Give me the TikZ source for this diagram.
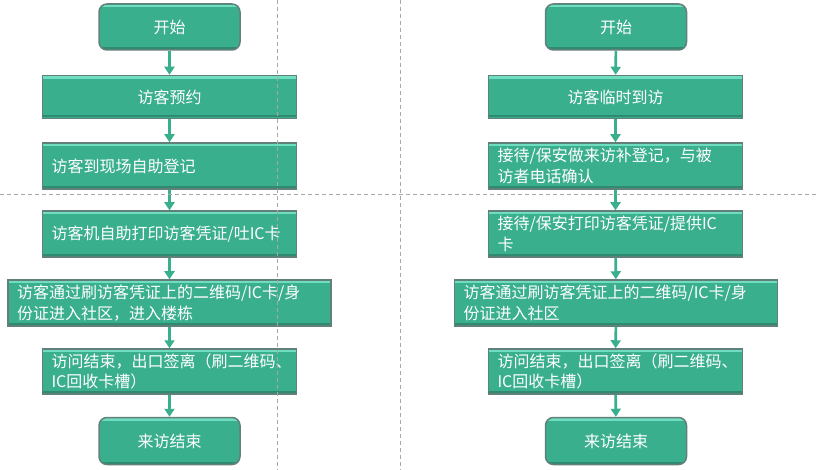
\documentclass[tikz,border=0pt]{standalone}
\usepackage{fontspec}
\setmainfont{Noto Sans CJK SC}
\usetikzlibrary{arrows.meta}
\definecolor{boxfill}{HTML}{3AAF8E}
\definecolor{boxedge}{HTML}{61807A}
\definecolor{boxhi}{HTML}{6FDDBF}
\definecolor{boxlo}{HTML}{2E8A70}
\definecolor{dashc}{HTML}{A8A8A8}
\begin{document}
\begin{tikzpicture}[x=1pt,y=-1pt,
  base/.style={draw=boxedge, line width=1.5pt, fill=boxfill, text=white,
    font=\fontsize{16}{20.5}\selectfont, inner ysep=0pt, minimum height=46pt,
    path picture={
      \draw[boxhi,line width=2.5pt] ([yshift=-2pt]path picture bounding box.north west) -- ([yshift=-2pt]path picture bounding box.north east);
      \draw[boxlo,line width=2pt] ([yshift=2pt]path picture bounding box.south west) -- ([yshift=2pt]path picture bounding box.south east);
    }},
  term/.style={base, rounded corners=8pt, minimum width=141pt, inner xsep=0pt, align=center},
  cbox/.style={base, minimum width=254pt, inner xsep=0pt, align=center},
  lbox/.style={base, inner xsep=9pt, text width=#1, align=left},
  arr/.style={draw=boxfill, line width=2.6pt, -{Triangle[width=10pt,length=8pt]}},
  divider/.style={draw=dashc, line width=1pt, dash pattern=on 4pt off 3pt}
]
\useasboundingbox (0,0) rectangle (816,470);
\fill[white] (0,0) rectangle (816,470);

% left column
\node[term] (s1) at (169.5,27) {开始};
\node[cbox, minimum height=43pt] (a1) at (169.5,97) {访客预约};
\node[lbox=236pt] (a2) at (169.5,166) {访客到现场自助登记};
\node[lbox=236pt] (a3) at (169.5,234) {访客机自助打印访客凭证/吐IC卡};
\node[lbox=305pt] (a4) at (169.5,303) {访客通过刷访客凭证上的二维码/IC卡/身\\份证进入社区，进入楼栋};
\node[lbox=236pt, minimum height=45pt] (a5) at (169.5,371.5) {访问结束，出口签离（刷二维码、\\IC回收卡槽）};
\node[term, minimum height=47pt] (e1) at (169.5,441) {来访结束};

% right column
\node[term] (s2) at (616,27) {开始};
\node[cbox, minimum height=43pt] (b1) at (615.5,97) {访客临时到访};
\node[lbox=236pt] (b2) at (615.5,166) {接待/保安做来访补登记，与被\\访者电话确认};
\node[lbox=236pt] (b3) at (615.5,234) {接待/保安打印访客凭证/提供IC\\卡};
\node[lbox=305pt] (b4) at (616,303) {访客通过刷访客凭证上的二维码/IC卡/身\\份证进入社区};
\node[lbox=236pt, minimum height=45pt] (b5) at (615.5,371.5) {访问结束，出口签离（刷二维码、\\IC回收卡槽）};
\node[term, minimum height=47pt] (e2) at (616,441) {来访结束};

% connectors
\foreach \u/\v in {s1/a1,a1/a2,a2/a3,a3/a4,a4/a5,a5/e1,s2/b1,b1/b2,b2/b3,b3/b4,b4/b5,b5/e2}
  \draw[arr] (\u) -- (\v);

% dividers
\draw[divider] (277,0) -- (277,470);
\draw[divider] (400,0) -- (400,470);
\draw[divider] (0,195) -- (816,195);
\end{tikzpicture}
\end{document}
